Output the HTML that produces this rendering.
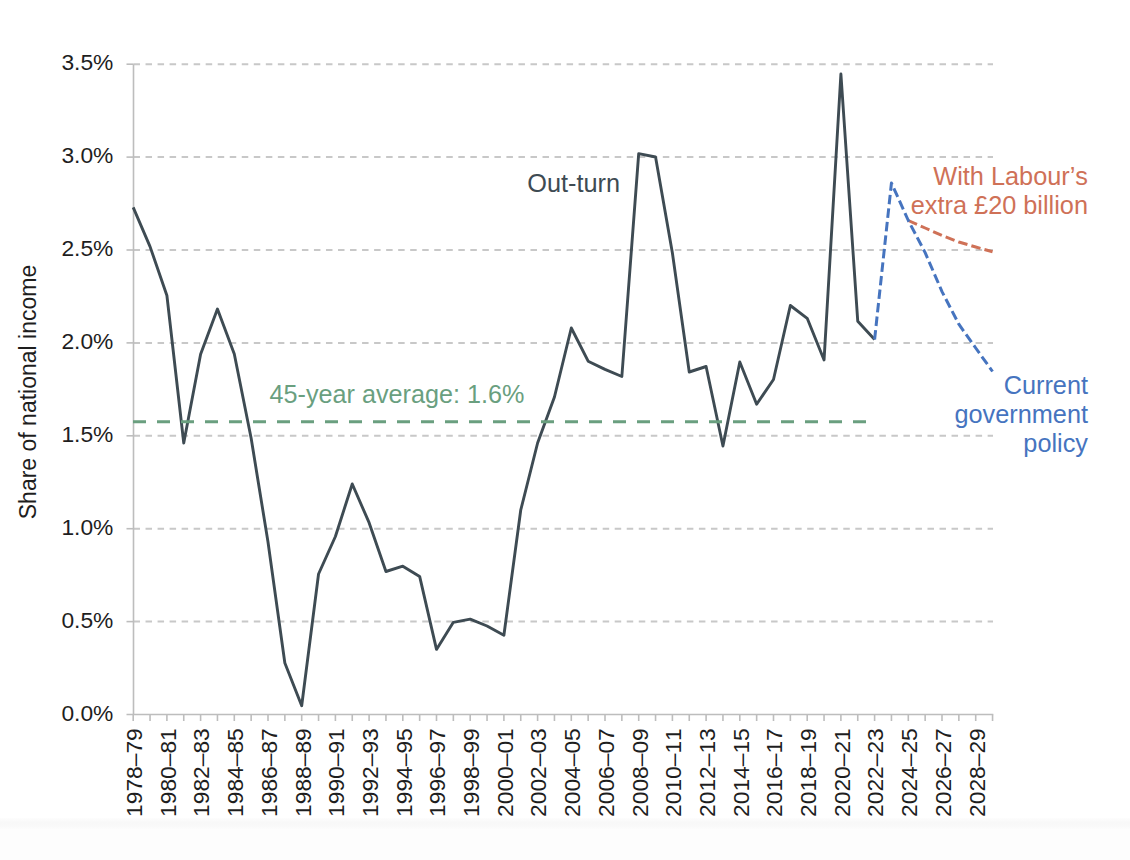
<!DOCTYPE html><html><head><meta charset="utf-8"><title>Chart</title><style>
html,body{margin:0;padding:0;background:#ffffff;}
body{width:1130px;height:860px;overflow:hidden;position:relative;}
svg{position:absolute;left:0;top:0;display:block;font-kerning:none;} text{font-kerning:none;}
.band{position:absolute;left:0;top:818px;width:1130px;height:11px;background:linear-gradient(#fdfdfd,#f8f8f8 40%,#f9f9f9 70%,#fcfcfc);}
.bot{position:absolute;left:0;top:829px;width:1130px;height:31px;background:#fdfdfd;}
</style></head><body>
<div class="band"></div><div class="bot"></div>
<svg width="1130" height="860" viewBox="0 0 1130 860" font-family='"Liberation Sans", Arial, Helvetica, sans-serif'>
<g>
<line x1="126.5" y1="64.20" x2="133.5" y2="64.20" stroke="#bdbdbd" stroke-width="1.6"/>
<line x1="133.5" y1="64.20" x2="993" y2="64.20" stroke="#c8c8c8" stroke-width="2" stroke-dasharray="6.5 5.53"/>
<line x1="126.5" y1="157.10" x2="133.5" y2="157.10" stroke="#bdbdbd" stroke-width="1.6"/>
<line x1="133.5" y1="157.10" x2="993" y2="157.10" stroke="#c8c8c8" stroke-width="2" stroke-dasharray="6.5 5.53"/>
<line x1="126.5" y1="250.00" x2="133.5" y2="250.00" stroke="#bdbdbd" stroke-width="1.6"/>
<line x1="133.5" y1="250.00" x2="993" y2="250.00" stroke="#c8c8c8" stroke-width="2" stroke-dasharray="6.5 5.53"/>
<line x1="126.5" y1="342.90" x2="133.5" y2="342.90" stroke="#bdbdbd" stroke-width="1.6"/>
<line x1="133.5" y1="342.90" x2="993" y2="342.90" stroke="#c8c8c8" stroke-width="2" stroke-dasharray="6.5 5.53"/>
<line x1="126.5" y1="435.80" x2="133.5" y2="435.80" stroke="#bdbdbd" stroke-width="1.6"/>
<line x1="133.5" y1="435.80" x2="993" y2="435.80" stroke="#c8c8c8" stroke-width="2" stroke-dasharray="6.5 5.53"/>
<line x1="126.5" y1="528.70" x2="133.5" y2="528.70" stroke="#bdbdbd" stroke-width="1.6"/>
<line x1="133.5" y1="528.70" x2="993" y2="528.70" stroke="#c8c8c8" stroke-width="2" stroke-dasharray="6.5 5.53"/>
<line x1="126.5" y1="621.60" x2="133.5" y2="621.60" stroke="#bdbdbd" stroke-width="1.6"/>
<line x1="133.5" y1="621.60" x2="993" y2="621.60" stroke="#c8c8c8" stroke-width="2" stroke-dasharray="6.5 5.53"/>
<line x1="133.5" y1="64.20" x2="133.5" y2="714.50" stroke="#bdbdbd" stroke-width="1.6"/>
<line x1="126.5" y1="714.50" x2="993.3" y2="714.50" stroke="#bdbdbd" stroke-width="1.6"/>
<line x1="133.20" y1="714.50" x2="133.20" y2="721" stroke="#bdbdbd" stroke-width="1.6"/>
<line x1="150.05" y1="714.50" x2="150.05" y2="721" stroke="#bdbdbd" stroke-width="1.6"/>
<line x1="166.90" y1="714.50" x2="166.90" y2="721" stroke="#bdbdbd" stroke-width="1.6"/>
<line x1="183.75" y1="714.50" x2="183.75" y2="721" stroke="#bdbdbd" stroke-width="1.6"/>
<line x1="200.60" y1="714.50" x2="200.60" y2="721" stroke="#bdbdbd" stroke-width="1.6"/>
<line x1="217.45" y1="714.50" x2="217.45" y2="721" stroke="#bdbdbd" stroke-width="1.6"/>
<line x1="234.30" y1="714.50" x2="234.30" y2="721" stroke="#bdbdbd" stroke-width="1.6"/>
<line x1="251.15" y1="714.50" x2="251.15" y2="721" stroke="#bdbdbd" stroke-width="1.6"/>
<line x1="268.00" y1="714.50" x2="268.00" y2="721" stroke="#bdbdbd" stroke-width="1.6"/>
<line x1="284.85" y1="714.50" x2="284.85" y2="721" stroke="#bdbdbd" stroke-width="1.6"/>
<line x1="301.70" y1="714.50" x2="301.70" y2="721" stroke="#bdbdbd" stroke-width="1.6"/>
<line x1="318.55" y1="714.50" x2="318.55" y2="721" stroke="#bdbdbd" stroke-width="1.6"/>
<line x1="335.40" y1="714.50" x2="335.40" y2="721" stroke="#bdbdbd" stroke-width="1.6"/>
<line x1="352.25" y1="714.50" x2="352.25" y2="721" stroke="#bdbdbd" stroke-width="1.6"/>
<line x1="369.10" y1="714.50" x2="369.10" y2="721" stroke="#bdbdbd" stroke-width="1.6"/>
<line x1="385.95" y1="714.50" x2="385.95" y2="721" stroke="#bdbdbd" stroke-width="1.6"/>
<line x1="402.80" y1="714.50" x2="402.80" y2="721" stroke="#bdbdbd" stroke-width="1.6"/>
<line x1="419.65" y1="714.50" x2="419.65" y2="721" stroke="#bdbdbd" stroke-width="1.6"/>
<line x1="436.50" y1="714.50" x2="436.50" y2="721" stroke="#bdbdbd" stroke-width="1.6"/>
<line x1="453.35" y1="714.50" x2="453.35" y2="721" stroke="#bdbdbd" stroke-width="1.6"/>
<line x1="470.20" y1="714.50" x2="470.20" y2="721" stroke="#bdbdbd" stroke-width="1.6"/>
<line x1="487.05" y1="714.50" x2="487.05" y2="721" stroke="#bdbdbd" stroke-width="1.6"/>
<line x1="503.90" y1="714.50" x2="503.90" y2="721" stroke="#bdbdbd" stroke-width="1.6"/>
<line x1="520.75" y1="714.50" x2="520.75" y2="721" stroke="#bdbdbd" stroke-width="1.6"/>
<line x1="537.60" y1="714.50" x2="537.60" y2="721" stroke="#bdbdbd" stroke-width="1.6"/>
<line x1="554.45" y1="714.50" x2="554.45" y2="721" stroke="#bdbdbd" stroke-width="1.6"/>
<line x1="571.30" y1="714.50" x2="571.30" y2="721" stroke="#bdbdbd" stroke-width="1.6"/>
<line x1="588.15" y1="714.50" x2="588.15" y2="721" stroke="#bdbdbd" stroke-width="1.6"/>
<line x1="605.00" y1="714.50" x2="605.00" y2="721" stroke="#bdbdbd" stroke-width="1.6"/>
<line x1="621.85" y1="714.50" x2="621.85" y2="721" stroke="#bdbdbd" stroke-width="1.6"/>
<line x1="638.70" y1="714.50" x2="638.70" y2="721" stroke="#bdbdbd" stroke-width="1.6"/>
<line x1="655.55" y1="714.50" x2="655.55" y2="721" stroke="#bdbdbd" stroke-width="1.6"/>
<line x1="672.40" y1="714.50" x2="672.40" y2="721" stroke="#bdbdbd" stroke-width="1.6"/>
<line x1="689.25" y1="714.50" x2="689.25" y2="721" stroke="#bdbdbd" stroke-width="1.6"/>
<line x1="706.10" y1="714.50" x2="706.10" y2="721" stroke="#bdbdbd" stroke-width="1.6"/>
<line x1="722.95" y1="714.50" x2="722.95" y2="721" stroke="#bdbdbd" stroke-width="1.6"/>
<line x1="739.80" y1="714.50" x2="739.80" y2="721" stroke="#bdbdbd" stroke-width="1.6"/>
<line x1="756.65" y1="714.50" x2="756.65" y2="721" stroke="#bdbdbd" stroke-width="1.6"/>
<line x1="773.50" y1="714.50" x2="773.50" y2="721" stroke="#bdbdbd" stroke-width="1.6"/>
<line x1="790.35" y1="714.50" x2="790.35" y2="721" stroke="#bdbdbd" stroke-width="1.6"/>
<line x1="807.20" y1="714.50" x2="807.20" y2="721" stroke="#bdbdbd" stroke-width="1.6"/>
<line x1="824.05" y1="714.50" x2="824.05" y2="721" stroke="#bdbdbd" stroke-width="1.6"/>
<line x1="840.90" y1="714.50" x2="840.90" y2="721" stroke="#bdbdbd" stroke-width="1.6"/>
<line x1="857.75" y1="714.50" x2="857.75" y2="721" stroke="#bdbdbd" stroke-width="1.6"/>
<line x1="874.60" y1="714.50" x2="874.60" y2="721" stroke="#bdbdbd" stroke-width="1.6"/>
<line x1="891.45" y1="714.50" x2="891.45" y2="721" stroke="#bdbdbd" stroke-width="1.6"/>
<line x1="908.30" y1="714.50" x2="908.30" y2="721" stroke="#bdbdbd" stroke-width="1.6"/>
<line x1="925.15" y1="714.50" x2="925.15" y2="721" stroke="#bdbdbd" stroke-width="1.6"/>
<line x1="942.00" y1="714.50" x2="942.00" y2="721" stroke="#bdbdbd" stroke-width="1.6"/>
<line x1="958.85" y1="714.50" x2="958.85" y2="721" stroke="#bdbdbd" stroke-width="1.6"/>
<line x1="975.70" y1="714.50" x2="975.70" y2="721" stroke="#bdbdbd" stroke-width="1.6"/>
<line x1="992.55" y1="714.50" x2="992.55" y2="721" stroke="#bdbdbd" stroke-width="1.6"/>
<text x="113.4" y="70.40" font-size="22.8" fill="#1e1e1e" text-anchor="end">3.5%</text>
<text x="113.4" y="163.30" font-size="22.8" fill="#1e1e1e" text-anchor="end">3.0%</text>
<text x="113.4" y="256.20" font-size="22.8" fill="#1e1e1e" text-anchor="end">2.5%</text>
<text x="113.4" y="349.10" font-size="22.8" fill="#1e1e1e" text-anchor="end">2.0%</text>
<text x="113.4" y="442.00" font-size="22.8" fill="#1e1e1e" text-anchor="end">1.5%</text>
<text x="113.4" y="534.90" font-size="22.8" fill="#1e1e1e" text-anchor="end">1.0%</text>
<text x="113.4" y="627.80" font-size="22.8" fill="#1e1e1e" text-anchor="end">0.5%</text>
<text x="113.4" y="720.70" font-size="22.8" fill="#1e1e1e" text-anchor="end">0.0%</text>
<text transform="translate(142.00,728.2) rotate(-90)" font-size="22.8" fill="#1e1e1e" text-anchor="end">1978–79</text>
<text transform="translate(175.70,728.2) rotate(-90)" font-size="22.8" fill="#1e1e1e" text-anchor="end">1980–81</text>
<text transform="translate(209.40,728.2) rotate(-90)" font-size="22.8" fill="#1e1e1e" text-anchor="end">1982–83</text>
<text transform="translate(243.10,728.2) rotate(-90)" font-size="22.8" fill="#1e1e1e" text-anchor="end">1984–85</text>
<text transform="translate(276.80,728.2) rotate(-90)" font-size="22.8" fill="#1e1e1e" text-anchor="end">1986–87</text>
<text transform="translate(310.50,728.2) rotate(-90)" font-size="22.8" fill="#1e1e1e" text-anchor="end">1988–89</text>
<text transform="translate(344.20,728.2) rotate(-90)" font-size="22.8" fill="#1e1e1e" text-anchor="end">1990–91</text>
<text transform="translate(377.90,728.2) rotate(-90)" font-size="22.8" fill="#1e1e1e" text-anchor="end">1992–93</text>
<text transform="translate(411.60,728.2) rotate(-90)" font-size="22.8" fill="#1e1e1e" text-anchor="end">1994–95</text>
<text transform="translate(445.30,728.2) rotate(-90)" font-size="22.8" fill="#1e1e1e" text-anchor="end">1996–97</text>
<text transform="translate(479.00,728.2) rotate(-90)" font-size="22.8" fill="#1e1e1e" text-anchor="end">1998–99</text>
<text transform="translate(512.70,728.2) rotate(-90)" font-size="22.8" fill="#1e1e1e" text-anchor="end">2000–01</text>
<text transform="translate(546.40,728.2) rotate(-90)" font-size="22.8" fill="#1e1e1e" text-anchor="end">2002–03</text>
<text transform="translate(580.10,728.2) rotate(-90)" font-size="22.8" fill="#1e1e1e" text-anchor="end">2004–05</text>
<text transform="translate(613.80,728.2) rotate(-90)" font-size="22.8" fill="#1e1e1e" text-anchor="end">2006–07</text>
<text transform="translate(647.50,728.2) rotate(-90)" font-size="22.8" fill="#1e1e1e" text-anchor="end">2008–09</text>
<text transform="translate(681.20,728.2) rotate(-90)" font-size="22.8" fill="#1e1e1e" text-anchor="end">2010–11</text>
<text transform="translate(714.90,728.2) rotate(-90)" font-size="22.8" fill="#1e1e1e" text-anchor="end">2012–13</text>
<text transform="translate(748.60,728.2) rotate(-90)" font-size="22.8" fill="#1e1e1e" text-anchor="end">2014–15</text>
<text transform="translate(782.30,728.2) rotate(-90)" font-size="22.8" fill="#1e1e1e" text-anchor="end">2016–17</text>
<text transform="translate(816.00,728.2) rotate(-90)" font-size="22.8" fill="#1e1e1e" text-anchor="end">2018–19</text>
<text transform="translate(849.70,728.2) rotate(-90)" font-size="22.8" fill="#1e1e1e" text-anchor="end">2020–21</text>
<text transform="translate(883.40,728.2) rotate(-90)" font-size="22.8" fill="#1e1e1e" text-anchor="end">2022–23</text>
<text transform="translate(917.10,728.2) rotate(-90)" font-size="22.8" fill="#1e1e1e" text-anchor="end">2024–25</text>
<text transform="translate(950.80,728.2) rotate(-90)" font-size="22.8" fill="#1e1e1e" text-anchor="end">2026–27</text>
<text transform="translate(984.50,728.2) rotate(-90)" font-size="22.8" fill="#1e1e1e" text-anchor="end">2028–29</text>
<text transform="translate(35.7,392) rotate(-90)" font-size="23" fill="#1e1e1e" text-anchor="middle">Share of national income</text>
<polyline fill="none" stroke="#3e4b53" stroke-width="2.9" stroke-linejoin="round" stroke-linecap="butt" points="133.20,207.40 150.05,246.60 166.90,295.50 183.75,443.00 200.60,354.30 217.45,309.10 234.30,354.00 251.15,438.30 268.00,542.00 284.85,663.00 301.70,705.70 318.55,574.00 335.40,536.50 352.25,484.00 369.10,522.70 385.95,571.50 402.80,566.20 419.65,576.40 436.50,649.40 453.35,622.30 470.20,619.10 487.05,626.00 503.90,635.20 520.75,510.00 537.60,443.00 554.45,397.00 571.30,328.00 588.15,361.20 605.00,369.40 621.85,376.50 638.70,153.60 655.55,157.00 672.40,253.00 689.25,372.00 706.10,366.50 722.95,446.00 739.80,362.00 756.65,404.20 773.50,379.50 790.35,305.50 807.20,318.30 824.05,360.00 840.90,74.00 857.75,321.20 874.60,339.50"/>
<polyline fill="none" stroke="#cf7157" stroke-width="3" stroke-linejoin="round" stroke-dasharray="9.5 4.1" points="908.30,220.50 925.15,228.00 942.00,235.50 958.85,242.00 975.70,247.00 992.55,251.70"/>
<polyline fill="none" stroke="#4674bf" stroke-width="3" stroke-linejoin="round" stroke-dasharray="9.5 4.1" points="874.60,339.50 891.45,183.00 908.30,220.50 925.15,252.60 942.00,291.60 958.85,324.20 975.70,348.00 992.55,371.50"/>
<line x1="133" y1="421.8" x2="870" y2="421.8" stroke="#6a9f7f" stroke-width="3" stroke-dasharray="13 11"/>
<text x="269.6" y="403" font-size="25.2" fill="#6a9f7f">45-year average: 1.6%</text>
<text x="527.3" y="191.9" font-size="25.3" fill="#3e4b53">Out-turn</text>
<text x="1088" y="184.5" font-size="25.3" fill="#cf7157" text-anchor="end">With Labour’s</text>
<text x="1088" y="213.7" font-size="25.3" fill="#cf7157" text-anchor="end">extra £20 billion</text>
<text x="1088" y="393.8" font-size="25.3" fill="#4674bf" text-anchor="end">Current</text>
<text x="1088" y="422.8" font-size="25.3" fill="#4674bf" text-anchor="end">government</text>
<text x="1088" y="451.8" font-size="25.3" fill="#4674bf" text-anchor="end">policy</text>
</g></svg></body></html>
